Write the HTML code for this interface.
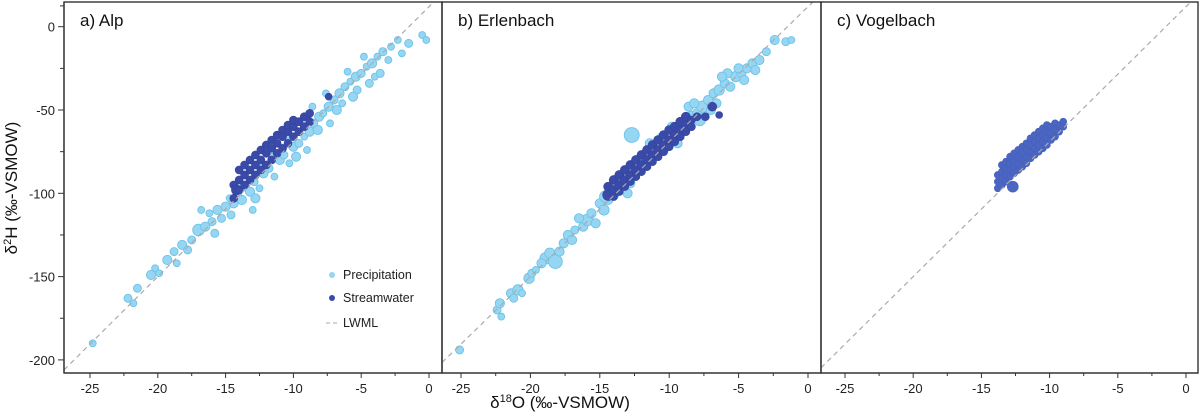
<!DOCTYPE html>
<html><head><meta charset="utf-8">
<style>
body{margin:0;background:#fff;width:1200px;height:414px;overflow:hidden;font-family:"Liberation Sans",sans-serif;}
svg text{font-family:"Liberation Sans",sans-serif;}
</style></head>
<body>
<svg id="chart" width="1200" height="414" xmlns="http://www.w3.org/2000/svg"></svg>
<script>
const panelTitles=["a) Alp","b) Erlenbach","c) Vogelbach"];
const xTicks=[-25,-20,-15,-10,-5,0];
const yTicks=[0,-50,-100,-150,-200];
const alpPrecip=[[-24.8,-190,3],[-22.2,-163,3.5],[-21.8,-166,3],[-21.5,-157,3.5],[-20.5,-149,4],[-20.2,-145,3],[-19.9,-148,3],[-19.3,-140,4],[-18.8,-135,3.5],[-18.2,-131,4],[-18.6,-142,3],[-17.5,-128,3.5],[-17,-122,5],[-16.5,-120,4],[-16,-117,3.5],[-16.2,-112,3],[-15.6,-110,4],[-15.3,-115,3.5],[-15,-108,4],[-14.7,-103,3],[-14.4,-106,4],[-14.1,-100,3.5],[-13.8,-104,4],[-13.5,-96,3],[-13.2,-99,4],[-12.9,-93,3.5],[-12.5,-97,3],[-12.2,-88,4],[-11.8,-85,3.5],[-11.4,-90,3],[-11,-80,4],[-10.7,-77,3.5],[-10.3,-82,3],[-10,-72,4],[-9.6,-70,3.5],[-9.2,-66,3],[-8.8,-63,4],[-8.5,-58,3.5],[-8.1,-54,4],[-7.8,-52,3],[-7.4,-48,4],[-7,-44,3.5],[-7.3,-58,3],[-6.6,-40,4],[-6.2,-36,3.5],[-5.8,-33,3],[-5.4,-30,4],[-5,-28,3.5],[-4.6,-24,3],[-4.2,-22,4],[-3.8,-18,3],[-3.4,-15,3.5],[-2.8,-12,3],[-2.3,-8,3],[-1.5,-10,3.5],[-0.5,-5,3],[-0.2,-8,3],[-6,-27,3],[-5.3,-38,3.5],[-4,-30,3],[-8.6,-48,3],[-9.5,-57,3.5],[-13,-110,3],[-15.8,-124,3.5],[-11.6,-78,3],[-10.5,-66,3],[-12.5,-82,3],[-14,-95,3.5],[-9,-74,3],[-3,-20,3],[-16.8,-110,3],[-7.6,-40,3],[-6.4,-46,3],[-4.8,-18,3],[-6.8,-50,4],[-5.6,-42,4],[-4.4,-34,3.5],[-8.2,-62,4],[-9.8,-78,4],[-12.8,-103,4],[-14.6,-113,3.5],[-17.8,-134,3.5],[-3.6,-28,3.5],[-2,-16,3]];
const alpStream=[[-14.4,-95,4],[-14.4,-103,4],[-14.2,-98,5],[-14,-92,4],[-14,-98,4],[-14,-86,4],[-13.6,-89,4],[-13.6,-95,4],[-13.6,-83,4],[-13.2,-86,4],[-13.2,-92,4],[-13.2,-80,4],[-12.8,-83,4],[-12.8,-89,4],[-12.8,-77,4],[-12.4,-80,4],[-12.4,-86,4],[-12.4,-74,4],[-12,-76,4],[-12,-83,4],[-12,-71,4],[-11.6,-73,4],[-11.6,-80,4],[-11.6,-68,4],[-11.2,-70,4],[-11.2,-76,4],[-11.2,-65,4],[-10.8,-66,4],[-10.8,-73,4],[-10.8,-62,4],[-10.4,-63,4],[-10.4,-70,4],[-10.4,-59,4],[-10,-60,4],[-10,-66,4],[-10,-56,4],[-9.6,-57,4],[-9.6,-63,4],[-9.2,-54,4],[-9.2,-60,4],[-8.8,-57,4],[-8.8,-52,4],[-7.4,-42,3.5]];
const erlPrecip=[[-25.1,-194,3.5],[-22.4,-170,3.5],[-22.2,-166,4],[-22.1,-174,3],[-21.4,-160,4],[-21.2,-163,3.5],[-20.9,-158,4.5],[-20.6,-160,3],[-20.1,-151,4.5],[-19.9,-148,3.5],[-19.6,-146,3],[-18.9,-139,5],[-18.6,-136,4.5],[-18.2,-141,6],[-17.9,-135,4],[-17.6,-130,4],[-17.3,-125,4],[-17,-128,4],[-16.8,-122,3.5],[-16.2,-120,4],[-15.9,-116,5],[-15.6,-112,4],[-15.3,-118,4],[-15,-106,4],[-14.7,-110,4.5],[-14.4,-104,4],[-14,-100,5],[-13.6,-96,4],[-13.2,-93,4.5],[-12.8,-94,4],[-12.4,-88,4],[-12,-85,4.5],[-11.6,-80,4],[-11.2,-78,4],[-12.7,-65,6.5],[-10.4,-74,4],[-10,-70,4.5],[-9.6,-66,4],[-9.2,-62,5],[-8.8,-58,4],[-8.4,-54,4.5],[-8,-52,4],[-7.6,-48,5],[-7.2,-44,4],[-6.8,-40,4],[-6.4,-38,4.5],[-6,-34,4],[-5.6,-36,4],[-5.2,-30,4.5],[-4.8,-28,4],[-4.4,-25,4],[-4,-22,4],[-3.5,-20,4],[-3,-15,3.5],[-2.4,-8,4],[-1.6,-9,3.5],[-1.2,-8,3],[-7,-50,4],[-8.6,-48,4],[-9.8,-60,4],[-11.4,-70,4],[-13,-100,4],[-14.6,-102,5],[-13.8,-92,4],[-5.8,-28,4],[-4.6,-32,4],[-6.6,-46,4],[-7.8,-56,5],[-9.4,-70,4],[-6.2,-30,4],[-5,-25,4],[-3.8,-26,4],[-8.2,-46,4],[-12.2,-80,4],[-10.6,-66,3],[-16.5,-115,4],[-19.2,-142,4]];
const erlStream=[[-14.4,-101,5.5],[-14.4,-96,4.5],[-14,-98,4.5],[-14,-92,4.5],[-14,-102,4],[-13.6,-95,4.5],[-13.6,-89,4.5],[-13.6,-99,4],[-13.2,-92,4.5],[-13.2,-86,4.5],[-13.2,-96,4],[-12.8,-89,4.5],[-12.8,-83,4.5],[-12.8,-93,4],[-12.4,-86,4.5],[-12.4,-80,4.5],[-12.4,-90,4],[-12,-83,4.5],[-12,-77,4.5],[-12,-87,4],[-11.6,-80,4.5],[-11.6,-74,4.5],[-11.6,-84,4],[-11.2,-77,4.5],[-11.2,-71,4.5],[-11.2,-81,4],[-10.8,-74,4.5],[-10.8,-68,4.5],[-10.8,-78,4],[-10.4,-71,4.5],[-10.4,-65,4.5],[-10.4,-75,4],[-10,-68,4.5],[-10,-62,4.5],[-10,-72,4],[-9.6,-65,4.5],[-9.6,-60,4.5],[-9.6,-69,4],[-9.2,-62,4.5],[-9.2,-57,4.5],[-9.2,-66,4],[-8.8,-59,4.5],[-8.8,-54,4.5],[-8.8,-63,4],[-8.4,-56,4],[-8.4,-60,4],[-8,-54,4],[-6.9,-48,4.5],[-6.4,-53,3.5],[-7.4,-54,4]];
const vogStream=[[-13.8,-97,3.5],[-13.8,-93,3.5],[-13.8,-89,3.5],[-13.5,-95,3.5],[-13.5,-91,3.5],[-13.5,-87,3.5],[-13.5,-83,3.5],[-13.2,-93,3.5],[-13.2,-89,3.5],[-13.2,-85,3.5],[-13.2,-81,3.5],[-12.9,-90,3.5],[-12.9,-86,3.5],[-12.9,-82,3.5],[-12.9,-78,3.5],[-12.6,-88,3.5],[-12.6,-84,3.5],[-12.6,-80,3.5],[-12.6,-76,3.5],[-12.3,-86,3.5],[-12.3,-82,3.5],[-12.3,-78,3.5],[-12.3,-74,3.5],[-12,-84,3.5],[-12,-80,3.5],[-12,-76,3.5],[-12,-72,3.5],[-11.7,-82,3.5],[-11.7,-78,3.5],[-11.7,-74,3.5],[-11.7,-70,3.5],[-11.4,-79,3.5],[-11.4,-75,3.5],[-11.4,-71,3.5],[-11.4,-67,3.5],[-11.1,-77,3.5],[-11.1,-73,3.5],[-11.1,-69,3.5],[-11.1,-65,3.5],[-10.8,-75,3.5],[-10.8,-71,3.5],[-10.8,-67,3.5],[-10.8,-63,3.5],[-10.5,-73,3.5],[-10.5,-69,3.5],[-10.5,-65,3.5],[-10.5,-61,3.5],[-10.2,-71,3.5],[-10.2,-67,3.5],[-10.2,-63,3.5],[-10.2,-59,3.5],[-9.9,-68,3.5],[-9.9,-64,3.5],[-9.9,-60,3.5],[-9.6,-66,3.5],[-9.6,-62,3.5],[-9.6,-58,3.5],[-9.3,-63,3.5],[-9.3,-59,3.5],[-9,-60,3.5],[-9,-57,3.5],[-12.7,-96,5.5]];
const panelPrecip=[alpPrecip,erlPrecip,[]];
const panelStream=[alpStream,erlStream,vogStream];

const NS="http://www.w3.org/2000/svg";
const svg=document.getElementById('chart');
function mk(tag,attrs,parent){const e=document.createElementNS(NS,tag);for(const k in attrs)e.setAttribute(k,attrs[k]);(parent||svg).appendChild(e);return e;}
const panels=[{l:64,r:442,x0:90,x1:429},{l:442,r:821,x0:461,x1:808},{l:821,r:1198,x0:845,x1:1186}];
const plotTop=2,plotBot=373;
function yS(v){return 26.7-(v)*(83.3/50);}
panels.forEach((p,i)=>{
  const xS=v=>p.x0+(v+25)*(p.x1-p.x0)/25;
  const g=mk('g',{});
  
  
  const clipId='clip'+i;
  const cp=mk('clipPath',{id:clipId},g);mk('rect',{x:p.l,y:plotTop,width:p.r-p.l,height:plotBot-plotTop},cp);
  const vmin=(p.l-p.x0)/(p.x1-p.x0)*25-25, vmax=(p.r-p.x0)/(p.x1-p.x0)*25-25;
  panelPrecip[i].forEach(d=>{
    const c=mk('circle',{cx:xS(d[0]),cy:yS(d[1]),r:d[2]*1.15,fill:'#97d6f2',stroke:'#6cc3e8','stroke-width':0.9,'clip-path':'url(#'+clipId+')'},g);
    
    
  });
  panelStream[i].forEach(d=>{
    const col=i==2?'#4a66c2':'#3a4aa8';
    const c=mk('circle',{cx:xS(d[0]),cy:yS(d[1]),r:d[2],fill:col,stroke:i==2?'#4660bc':'#33439c','stroke-width':0.6,'clip-path':'url(#'+clipId+')'},g);
    
    
  });
  const ln=mk('line',{x1:xS(vmin),y1:yS(8.1*vmin+12),x2:xS(vmax),y2:yS(8.1*vmax+12),stroke:'#aaa','stroke-width':1.2,'stroke-dasharray':'5,4','clip-path':'url(#'+clipId+')'},g);
  
  
  const fr=mk('rect',{x:p.l,y:plotTop,width:p.r-p.l,height:plotBot-plotTop,fill:'none',stroke:'#222','stroke-width':1.3},g);
  
  
  const t=mk('text',{x:p.l+16,y:26,'font-size':17,fill:'#111'},g);t.textContent=panelTitles[i];
  
  
  xTicks.forEach(v=>{
    mk('line',{x1:xS(v),y1:plotBot,x2:xS(v),y2:plotBot+5,stroke:'#333'},g);
    const mx=xS(v-2.5);
    if(mx>p.l+1) mk('line',{x1:mx,y1:plotBot,x2:mx,y2:plotBot+3,stroke:'#333'},g);
    const tl=mk('text',{x:xS(v),y:plotBot+20,'font-size':13,'text-anchor':'middle',fill:'#222'},g);tl.textContent=v;
    
    
  });
});
mk('line',{x1:64,y1:plotBot,x2:1198,y2:plotBot,stroke:'#333','stroke-width':1.3});
mk('line',{x1:64,y1:plotTop,x2:64,y2:plotBot,stroke:'#333','stroke-width':1.3});
yTicks.forEach(v=>{
  mk('line',{x1:58,y1:yS(v),x2:64,y2:yS(v),stroke:'#333'});
  if(yS(v-25)<plotBot) mk('line',{x1:60,y1:yS(v-25),x2:64,y2:yS(v-25),stroke:'#333'});
  const tl=mk('text',{x:55,y:yS(v)+5,'font-size':13,'text-anchor':'end',fill:'#222'});tl.textContent=v;
  
  
});
mk('line',{x1:60,y1:yS(12.5),x2:64,y2:yS(12.5),stroke:'#333'});
const yl=mk('text',{x:0,y:0,'font-size':17,'text-anchor':'middle',fill:'#111',transform:'translate(17,188) rotate(-90)'});
yl.innerHTML='δ<tspan font-size="11" dy="-6">2</tspan><tspan dy="6">H (‰-VSMOW)</tspan>';


const xl=mk('text',{x:560,y:408,'font-size':17,'text-anchor':'middle',fill:'#111'});
xl.innerHTML='δ<tspan font-size="11" dy="-6">18</tspan><tspan dy="6">O (‰-VSMOW)</tspan>';


const lg=mk('g',{});


mk('circle',{cx:332,cy:275,r:3,fill:'#97d6f2'},lg);
mk('circle',{cx:332,cy:298,r:3,fill:'#3a4aa8'},lg);
mk('line',{x1:326,y1:323,x2:338,y2:323,stroke:'#aaa','stroke-dasharray':'4,3'},lg);
[['Precipitation',279],['Streamwater',302],['LWML',327]].forEach(a=>{
  const t=mk('text',{x:343,y:a[1],'font-size':12.5,fill:'#222'},lg);t.textContent=a[0];
  
  
});
</script>
</body></html>
